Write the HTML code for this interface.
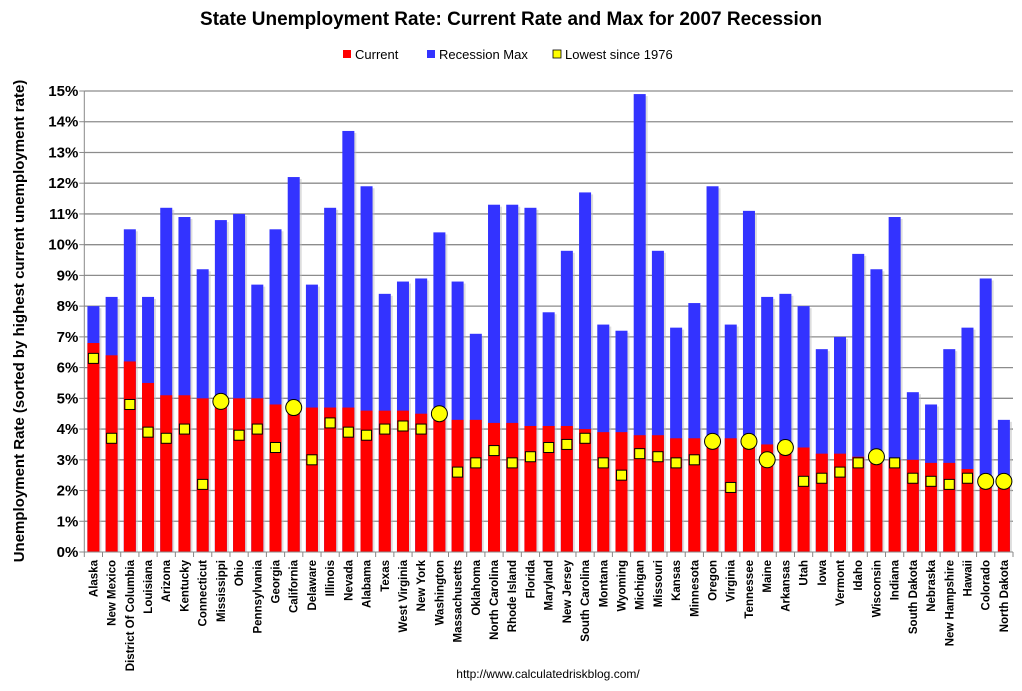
<!DOCTYPE html>
<html><head><meta charset="utf-8"><style>
body{margin:0;background:#fff;}
svg{display:block;font-family:"Liberation Sans",Arial,sans-serif;}
</style></head><body>
<svg id="chart" width="1022" height="691" viewBox="0 0 1022 691">
<text x="511" y="25" text-anchor="middle" font-size="19" font-weight="bold">State Unemployment Rate: Current Rate and Max for 2007 Recession</text>
<g font-size="13">
<g><rect x="343" y="50" width="8" height="8" fill="#ff0000"/><text x="355" y="59">Current</text></g>
<g><rect x="427" y="50" width="8" height="8" fill="#3333ff"/><text x="439" y="59">Recession Max</text></g>
<g><rect x="553" y="50" width="8" height="8" fill="#ffff00" stroke="#000" stroke-width="0.8"/><text x="565" y="59">Lowest since 1976</text></g>
</g>
<text transform="translate(24,321) rotate(-90)" text-anchor="middle" font-size="15" font-weight="bold">Unemployment Rate (sorted by highest current unemployment rate)</text>
<text x="548" y="678" text-anchor="middle" font-size="12">http://www.calculatedriskblog.com/</text>
<g id="grid"></g><g id="bars"></g><g id="marks"></g><g id="axes"></g>
</svg>
<script>
const states=["Alaska","New Mexico","District Of Columbia","Louisiana","Arizona","Kentucky","Connecticut","Mississippi","Ohio","Pennsylvania","Georgia","California","Delaware","Illinois","Nevada","Alabama","Texas","West Virginia","New York","Washington","Massachusetts","Oklahoma","North Carolina","Rhode Island","Florida","Maryland","New Jersey","South Carolina","Montana","Wyoming","Michigan","Missouri","Kansas","Minnesota","Oregon","Virginia","Tennessee","Maine","Arkansas","Utah","Iowa","Vermont","Idaho","Wisconsin","Indiana","South Dakota","Nebraska","New Hampshire","Hawaii","Colorado","North Dakota"];
const current=[6.8,6.4,6.2,5.5,5.1,5.1,5.0,5.0,5.0,5.0,4.8,4.7,4.7,4.7,4.7,4.6,4.6,4.6,4.5,4.5,4.3,4.3,4.2,4.2,4.1,4.1,4.1,4.0,3.9,3.9,3.8,3.8,3.7,3.7,3.7,3.7,3.6,3.5,3.4,3.4,3.2,3.2,3.1,3.1,3.0,3.0,2.9,2.9,2.7,2.3,2.3];
const recessionMax=[8.0,8.3,10.5,8.3,11.2,10.9,9.2,10.8,11.0,8.7,10.5,12.2,8.7,11.2,13.7,11.9,8.4,8.8,8.9,10.4,8.8,7.1,11.3,11.3,11.2,7.8,9.8,11.7,7.4,7.2,14.9,9.8,7.3,8.1,11.9,7.4,11.1,8.3,8.4,8.0,6.6,7.0,9.7,9.2,10.9,5.2,4.8,6.6,7.3,8.9,4.3];
const lowest=[6.3,3.7,4.8,3.9,3.7,4.0,2.2,4.9,3.8,4.0,3.4,4.7,3.0,4.2,3.9,3.8,4.0,4.1,4.0,4.5,2.6,2.9,3.3,2.9,3.1,3.4,3.5,3.7,2.9,2.5,3.2,3.1,2.9,3.0,3.6,2.1,3.6,3.0,3.4,2.3,2.4,2.6,2.9,3.1,2.9,2.4,2.3,2.2,2.4,2.3,2.3];
const isCurrentLow=[0,0,0,0,0,0,0,1,0,0,0,1,0,0,0,0,0,0,0,1,0,0,0,0,0,0,0,0,0,0,0,0,0,0,1,0,1,1,1,0,0,0,0,1,0,0,0,0,0,1,1];
const yTicks=[0,1,2,3,4,5,6,7,8,9,10,11,12,13,14,15];

const NS="http://www.w3.org/2000/svg";
const X0=84.3,X1=1013,Y0=552,Y15=91;
const cw=(X1-X0)/states.length;
const y=v=>Y0-(v/15)*(Y0-Y15);
const xc=i=>X0+cw*(i+0.5);
function mk(tag,attrs,parent){const e=document.createElementNS(NS,tag);for(const k in attrs)e.setAttribute(k,attrs[k]);parent.appendChild(e);return e;}
const grid=document.getElementById('grid'),bars=document.getElementById('bars'),marks=document.getElementById('marks'),axes=document.getElementById('axes');
yTicks.forEach(t=>{
  if(t>0){const l=mk('line',{x1:X0,x2:X1,y1:y(t),y2:y(t),stroke:'#8c8c8c','stroke-width':1.3},grid);
  
  }
  const tk=mk('line',{x1:X0-5,x2:X0,y1:y(t),y2:y(t),stroke:'#888'},axes);
  
  
  const tx=mk('text',{x:X0-6,y:y(t)+5,'text-anchor':'end','font-size':15,'font-weight':'bold'},axes);
  tx.textContent=t+'%';
  
  
});
const ya=mk('line',{x1:X0,x2:X0,y1:Y15,y2:Y0,stroke:'#888'},axes);


const xa=mk('line',{x1:X0,x2:X1,y1:Y0,y2:Y0,stroke:'#888'},axes);


const bw=12;
states.forEach((s,i)=>{
  const cx=xc(i);
  const sh=mk('rect',{x:cx-bw/2+2,y:y(recessionMax[i])+2,width:bw,height:Y0-y(recessionMax[i])-2,fill:'#bbb',opacity:0.5},bars);
  
  
  const b=mk('rect',{x:cx-bw/2,y:y(recessionMax[i]),width:bw,height:Y0-y(recessionMax[i]),fill:'#3333ff'},bars);
  
  
  const r=mk('rect',{x:cx-bw/2,y:y(current[i]),width:bw,height:Y0-y(current[i]),fill:'#ff0000'},bars);
  
  
  let m;
  if(isCurrentLow[i]){m=mk('circle',{cx:cx,cy:y(lowest[i]),r:8,fill:'#ffff00',stroke:'#000','stroke-width':1},marks);}
  else{m=mk('rect',{x:cx-5,y:y(lowest[i])-5,width:10,height:10,fill:'#ffff00',stroke:'#000','stroke-width':1},marks);}
  
  
  const tk=mk('line',{x1:X0+cw*(i+1),x2:X0+cw*(i+1),y1:Y0,y2:Y0+5,stroke:'#888'},axes);
  
  
  const lb=mk('text',{transform:`translate(${cx+4},${Y0+8}) rotate(-90)`,'text-anchor':'end','font-size':11.5,'font-weight':'bold'},axes);
  lb.textContent=s;
  
  
});
const t0=mk('line',{x1:X0,x2:X0,y1:Y0,y2:Y0+5,stroke:'#888'},axes);


</script>
</body></html>
